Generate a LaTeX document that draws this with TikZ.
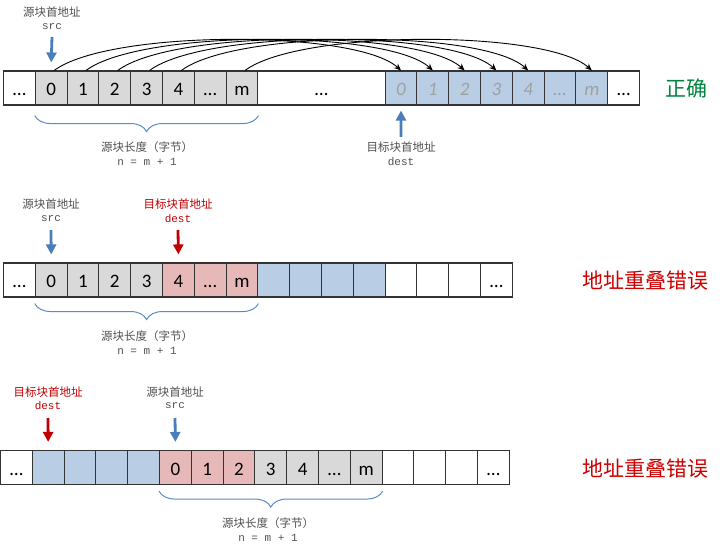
\documentclass[tikz,border=0pt]{standalone}
\usepackage{fontspec}
\setmainfont{Carlito}
\newfontfamily\cjkf{Noto Sans CJK SC}
\newfontfamily\monof{Liberation Mono}
\usetikzlibrary{arrows.meta,decorations.pathreplacing}
\definecolor{cellborder}{HTML}{333333}
\definecolor{grayfill}{HTML}{D9D9D9}
\definecolor{bluefill}{HTML}{B9CDE5}
\definecolor{redfill}{HTML}{E6B9B8}
\definecolor{ghosttext}{HTML}{A0A0A0}
\definecolor{labelgray}{HTML}{505050}
\definecolor{ptrblue}{HTML}{4A7EBB}
\definecolor{ptrred}{HTML}{C00000}
\definecolor{braceblue}{HTML}{5B8BC9}
\definecolor{okgreen}{HTML}{00843D}
\definecolor{errred}{HTML}{CC0000}
\tikzset{
  cell/.style={draw=cellborder, line width=1.1pt, minimum width=31.8pt, minimum height=34pt,
    inner sep=0pt, text height=16pt, text depth=0pt, font=\fontsize{19}{19}\selectfont},
  gcell/.style={cell, fill=grayfill},
  bcell/.style={cell, fill=bluefill, text=ghosttext, font=\fontsize{19}{19}\selectfont\itshape},
  rcell/.style={cell, fill=redfill},
  wcell/.style={cell, fill=white},
  lbl/.style={font=\cjkf\fontsize{11.5}{12}\selectfont, text=labelgray, inner sep=0pt},
  code/.style={font=\monof\fontsize{11}{11}\selectfont, text=labelgray, inner sep=0pt},
  ptr/.style={-{Triangle[length=10pt,width=10pt]}, line width=2.8pt},
  brc/.style={decorate, decoration={brace, mirror, amplitude=16pt, aspect=0.5}, draw=braceblue, line width=1pt},
  copyarr/.style={-{Stealth[length=7pt,width=6pt]}, line width=0.9pt, black},
  verdict/.style={font=\cjkf\fontsize{21}{21}\selectfont, inner sep=0pt}
}
\begin{document}
\begin{tikzpicture}[x=1pt,y=1pt]
\useasboundingbox (0,0) rectangle (720,-553);
% ---------------- Row 1 ----------------
\node[wcell] (r1a) at (19.4,-88) {…};
\foreach \t [count=\k from 1] in {0,1,2,3,4,…,m}
  \node[gcell] (r1g\k) at ({19.4+31.8*\k},-88) {\t};
\node[wcell, minimum width=127.2pt] (r1w) at (321.5,-88) {…};
\foreach \t [count=\k from 1] in {0,1,2,3,4,…,m}
  \node[bcell] (r1b\k) at ({19.4+31.8*(\k+11)},-88) {\t};
\node[wcell] (r1z) at ({19.4+31.8*19},-88) {…};
\foreach \k in {1,2,3,4,5,7}
  \draw[copyarr] ([xshift=3pt]r1g\k.north) .. controls +(55,41) and +(-45,41) .. (r1b\k.north);
\node[lbl] (r1srcl) at (52,-12) {源块首地址};
\node[code] (r1src) at (52,-27) {src};
\coordinate (r1srct) at (52,-37);
\draw[ptr, ptrblue] (r1srct) -- ([yshift=8pt]r1g1.north);
\node[lbl] (r1dstl) at (401,-147) {目标块首地址};
\node[code] (r1dst) at (401,-162) {dest};
\coordinate (r1dstb) at (401,-137);
\draw[ptr, ptrblue] (r1dstb) -- ([yshift=-5pt]r1b1.south);
\draw[brc] ([yshift=-10pt]r1g1.south west) -- ([yshift=-10pt]r1g7.south east);
\node[lbl] (r1len) at (147,-147) {源块长度（字节）};
\node[code] (r1n) at (147,-162) {n = m + 1};
\node[verdict, text=okgreen] (r1v) at (686,-89) {正确};
% ---------------- Row 2 ----------------
\node[wcell] (r2a) at (19.4,-280) {…};
\foreach \t [count=\k from 1] in {0,1,2,3}
  \node[gcell] (r2g\k) at ({19.4+31.8*\k},-280) {\t};
\foreach \t [count=\k from 1] in {4,…,m}
  \node[rcell] (r2r\k) at ({19.4+31.8*(\k+4)},-280) {\t};
\foreach \k in {1,...,4}
  \node[cell, fill=bluefill] (r2b\k) at ({19.4+31.8*(\k+7)},-280) {};
\foreach \k in {1,2,3}
  \node[wcell] (r2w\k) at ({19.4+31.8*(\k+11)},-280) {};
\node[wcell] (r2z) at ({19.4+31.8*15},-280) {…};
\node[lbl] (r2srcl) at (51,-204) {源块首地址};
\node[code] (r2src) at (51,-219) {src};
\coordinate (r2srct) at (51,-230);
\draw[ptr, ptrblue] (r2srct) -- ([yshift=8pt]r2g1.north);
\node[lbl, text=ptrred] (r2dstl) at (178,-204) {目标块首地址};
\node[code, text=ptrred] (r2dst) at (178,-219) {dest};
\coordinate (r2dstt) at (178,-230);
\draw[ptr, ptrred] (r2dstt) -- ([yshift=8pt]r2r1.north);
\draw[brc] ([yshift=-6pt]r2g1.south west) -- ([yshift=-6pt]r2r3.south east);
\node[lbl] (r2len) at (147,-336) {源块长度（字节）};
\node[code] (r2n) at (147,-351) {n = m + 1};
\node[verdict, text=errred] (r2v) at (645,-281) {地址重叠错误};
% ---------------- Row 3 ----------------
\node[wcell] (r3a) at (16.4,-467.5) {…};
\foreach \k in {1,...,4}
  \node[cell, fill=bluefill] (r3b\k) at ({16.4+31.8*\k},-467.5) {};
\foreach \t [count=\k from 1] in {0,1,2}
  \node[rcell] (r3r\k) at ({16.4+31.8*(\k+4)},-467.5) {\t};
\foreach \t [count=\k from 1] in {3,4,…,m}
  \node[gcell] (r3g\k) at ({16.4+31.8*(\k+7)},-467.5) {\t};
\foreach \k in {1,2,3}
  \node[wcell] (r3w\k) at ({16.4+31.8*(\k+11)},-467.5) {};
\node[wcell] (r3z) at ({16.4+31.8*15},-467.5) {…};
\node[lbl, text=ptrred] (r3dstl) at (48,-392) {目标块首地址};
\node[code, text=ptrred] (r3dst) at (48,-406) {dest};
\coordinate (r3dstt) at (48,-418);
\draw[ptr, ptrred] (r3dstt) -- ([yshift=8pt]r3b1.north);
\node[lbl] (r3srcl) at (175,-392) {源块首地址};
\node[code] (r3src) at (175,-406) {src};
\coordinate (r3srct) at (175,-418);
\draw[ptr, ptrblue] (r3srct) -- ([yshift=8pt]r3r1.north);
\draw[brc] ([yshift=-6pt]r3r1.south west) -- ([yshift=-6pt]r3g4.south east);
\node[lbl] (r3len) at (268,-523) {源块长度（字节）};
\node[code] (r3n) at (268,-538) {n = m + 1};
\node[verdict, text=errred] (r3v) at (645,-469) {地址重叠错误};
\end{tikzpicture}
\end{document}
